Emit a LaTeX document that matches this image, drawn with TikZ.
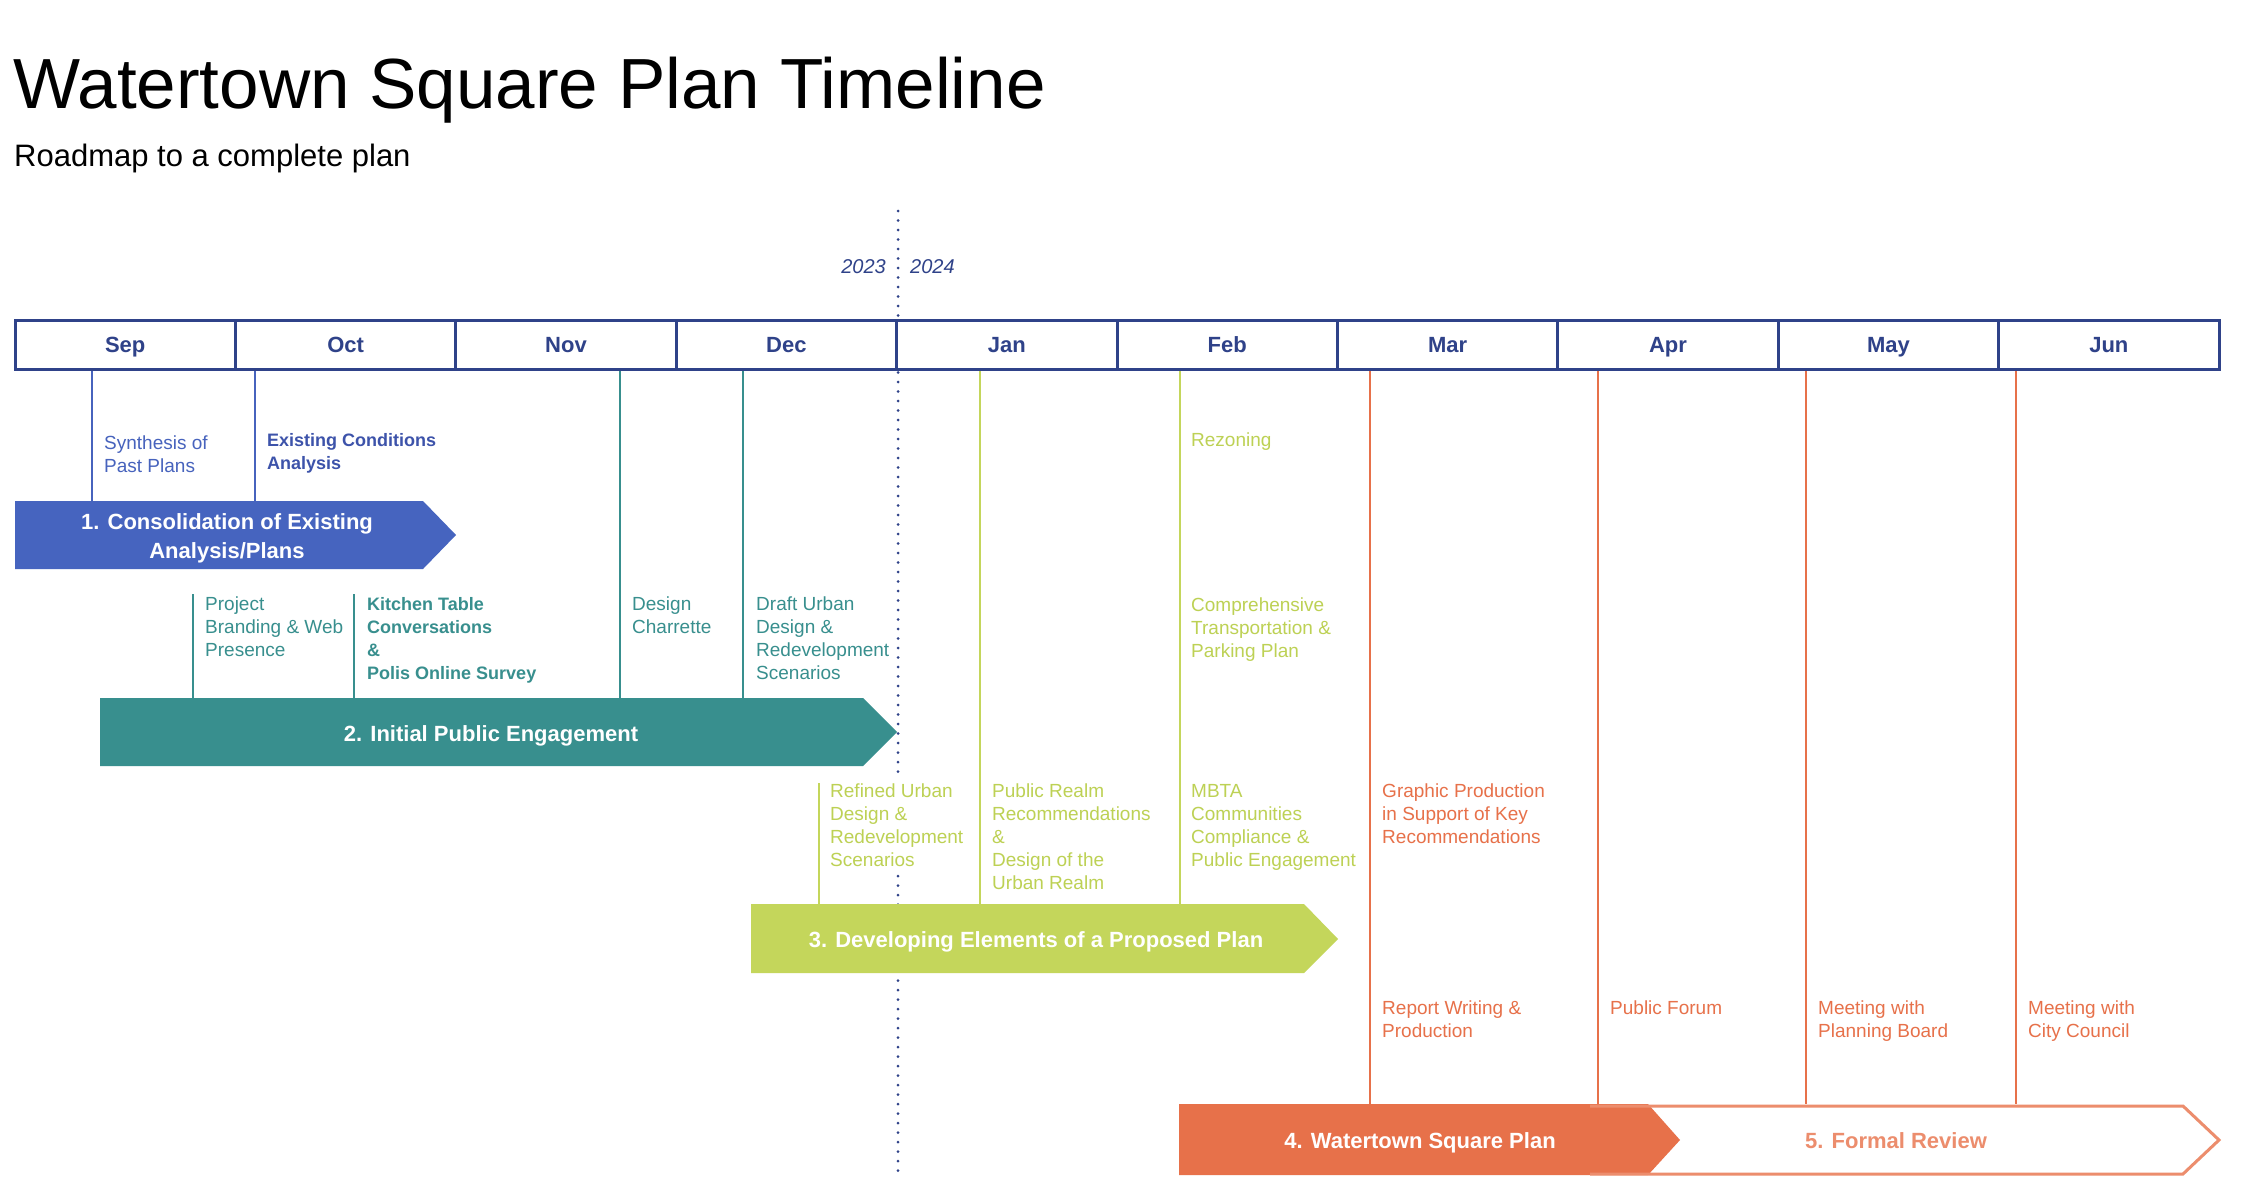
\documentclass[tikz,border=0pt]{standalone}
\usepackage{fontspec}
\setmainfont{Liberation Sans}
\definecolor{navy}{HTML}{2F4289}
\definecolor{pblue}{HTML}{4664BF}
\definecolor{lblue}{HTML}{4763BD}
\definecolor{dblue}{HTML}{3D53AA}
\definecolor{tealc}{HTML}{388F8E}
\definecolor{limec}{HTML}{C4D65B}
\definecolor{limet}{HTML}{BDD154}
\definecolor{orng}{HTML}{E7714A}
\definecolor{lorng}{HTML}{EC8D6D}
\begin{document}
\begin{tikzpicture}[x=1pt,y=-1pt,
  lbl/.style={anchor=base west, align=left, inner sep=0pt, font=\fontsize{19}{23}\selectfont},
  lblb/.style={anchor=base west, align=left, inner sep=0pt, font=\fontsize{18}{23}\selectfont\bfseries},
  monthlbl/.style={anchor=base, inner sep=0pt, text=navy, font=\fontsize{22}{26}\selectfont\bfseries},
  phasetxt/.style={anchor=base, align=center, inner sep=0pt, font=\fontsize{22}{29}\selectfont\bfseries},
  tickln/.style={line width=2pt},
  yearlbl/.style={inner sep=0pt, text=navy, font=\fontsize{20}{24}\selectfont\itshape}
]
\useasboundingbox[fill=white] (0,0) rectangle (2248,1189);

% title
\node[anchor=base west, inner sep=0pt, font=\fontsize{71}{83}\selectfont] (title) at (13,108) {Watertown Square Plan Timeline};
\node[anchor=base west, inner sep=0pt, font=\fontsize{31}{37}\selectfont] (subtitle) at (14,166) {Roadmap to a complete plan};

% year divider
\draw[navy, line width=3pt, line cap=round, dash pattern=on 0pt off 9.5pt] (898,211) -- (898,1171);
\node[yearlbl, anchor=base east] (y2023) at (886,273) {2023};
\node[yearlbl, anchor=base west] (y2024) at (910,273) {2024};

% ticks
\begin{scope}[tickln]
\draw[lblue] (91.5,369) -- (91.5,501);
\draw[lblue] (255,369) -- (255,501);
\draw[tealc] (193,594) -- (193,698);
\draw[tealc] (354,594) -- (354,698);
\draw[tealc] (620,369) -- (620,698);
\draw[tealc] (743,369) -- (743,698);
\draw[limec] (819,783) -- (819,904);
\draw[limec] (980,369) -- (980,904);
\draw[limec] (1180,369) -- (1180,904);
\draw[orng] (1370,369) -- (1370,1104);
\draw[orng] (1598,369) -- (1598,1104);
\draw[orng] (1806,369) -- (1806,1104);
\draw[orng] (2016,369) -- (2016,1104);
\end{scope}

% month bar
\draw[navy, line width=3pt, fill=white] (15,320) rectangle (2219,369);
\foreach \i in {1,...,9} {
  \draw[navy, line width=3pt] ({15+220.4*\i},320) -- ({15+220.4*\i},369);
}
\foreach \m [count=\i from 0] in {Sep,Oct,Nov,Dec,Jan,Feb,Mar,Apr,May,Jun} {
  \node[monthlbl] (m\i) at ({15+220.4*\i+110.2},352) {\m};
}

% phase arrows
\fill[pblue] (15,501) -- (423,501) -- (456,535) -- (423,569) -- (15,569) -- cycle;
\fill[tealc] (100,698) -- (863,698) -- (897,732) -- (863,766) -- (100,766) -- cycle;
\fill[limec] (751,904) -- (1304,904) -- (1338,939) -- (1304,973) -- (751,973) -- cycle;
\fill[orng] (1179,1104) -- (1648,1104) -- (1680,1140) -- (1648,1175) -- (1179,1175) -- cycle;
\draw[lorng, line width=3pt] (1590,1106) -- (2183,1106) -- (2219,1140) -- (2183,1174) -- (1590,1174);

\node[phasetxt, text=white] (p1) at (227,558) {1. Consolidation of Existing\\Analysis/Plans};
\node[phasetxt, text=white] (p2) at (491,741) {2. Initial Public Engagement};
\node[phasetxt, text=white] (p3) at (1036,947) {3. Developing Elements of a Proposed Plan};
\node[phasetxt, text=white] (p4) at (1420,1148) {4. Watertown Square Plan};
\node[phasetxt, text=lorng] (p5) at (1896,1148) {5. Formal Review};

% labels phase 1
\node[lbl, text=lblue] (l1) at (104,472) {Synthesis of\\Past Plans};
\node[lblb, text=dblue] (l2) at (267,469) {Existing Conditions\\Analysis};

% labels phase 2
\node[lbl, text=tealc] (l3) at (205,656) {Project\\Branding \& Web\\Presence};
\node[lblb, text=tealc] (l4) at (367,679) {Kitchen Table\\Conversations\\\&\\Polis Online Survey};
\node[lbl, text=tealc] (l5) at (632,633) {Design\\Charrette};
\node[lbl, text=tealc] (l6) at (756,679) {Draft Urban\\Design \&\\Redevelopment\\Scenarios};

% labels phase 3
\node[lbl, text=limet] (l7) at (1191,446) {Rezoning};
\node[lbl, text=limet] (l8) at (1191,657) {Comprehensive\\Transportation \&\\Parking Plan};
\node[lbl, text=limet, fill=white, inner ysep=6pt] (l9) at (830,866) {Refined Urban\\Design \&\\Redevelopment\\Scenarios};
\node[lbl, text=limet] (l10) at (992,889) {Public Realm\\Recommendations\\\&\\Design of the\\Urban Realm};
\node[lbl, text=limet] (l11) at (1191,866) {MBTA\\Communities\\Compliance \&\\Public Engagement};

% labels phase 4/5
\node[lbl, text=orng] (l12) at (1382,843) {Graphic Production\\in Support of Key\\Recommendations};
\node[lbl, text=orng] (l13) at (1382,1037) {Report Writing \&\\Production};
\node[lbl, text=orng] (l14) at (1610,1014) {Public Forum};
\node[lbl, text=orng] (l15) at (1818,1037) {Meeting with\\Planning Board};
\node[lbl, text=orng] (l16) at (2028,1037) {Meeting with\\City Council};
\end{tikzpicture}
\end{document}
